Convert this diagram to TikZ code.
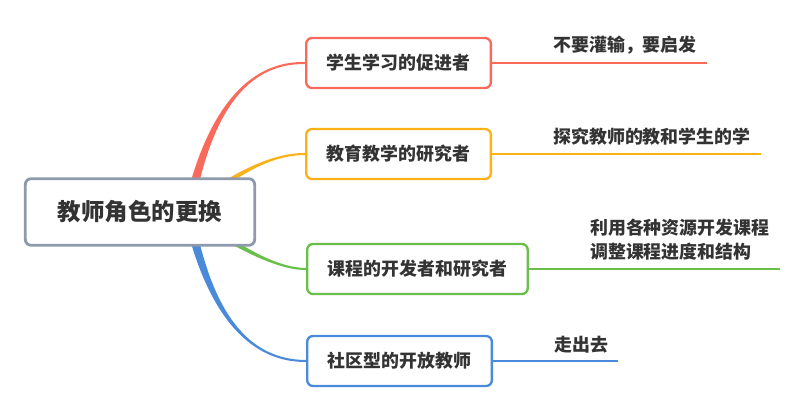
\documentclass[tikz,border=0pt]{standalone}
\usepackage{fontspec}
\setmainfont{Noto Sans CJK SC}
\usetikzlibrary{positioning,calc,backgrounds}

\definecolor{cRed}{HTML}{FA6A5A}
\definecolor{cOrange}{HTML}{FBB117}
\definecolor{cGreen}{HTML}{6ABF4B}
\definecolor{cBlue}{HTML}{4A8ADA}
\definecolor{cRoot}{HTML}{8E9AAB}
\definecolor{cText}{HTML}{333333}

\begin{document}
\begin{tikzpicture}[
  x=0.03cm, y=-0.03cm,
  rootbox/.style={draw=cRoot, line width=2.4pt, rounded corners=5pt, fill=white,
                  minimum height=2.0cm, inner xsep=0.98cm, text=cText,
                  font=\fontsize{20pt}{24pt}\selectfont\bfseries},
  topic/.style={draw=#1, line width=2pt, rounded corners=5pt, fill=white,
                minimum height=1.5cm, inner xsep=0.62cm, anchor=west, text=cText,
                font=\fontsize{15.3pt}{21.3pt}\selectfont\bfseries},
  leaf/.style={inner sep=0pt, anchor=south west, align=left, text=cText,
               font=\fontsize{15.3pt}{21.3pt}\selectfont\bfseries},
  leafline/.style={draw=#1, line width=2.1pt}
]
\useasboundingbox (0,0) rectangle (809,411);

% Root
\node[rootbox] (root) at (140,212) {教师角色的更换};
\coordinate (o) at ($(root.center)+(48,0)$);

% Main topics
\node[topic=cRed]    (b1) at (305,63)  {学生学习的促进者};
\node[topic=cOrange] (b2) at (305,154) {教育教学的研究者};
\node[topic=cGreen]  (b3) at (306,269) {课程的开发者和研究者};
\node[topic=cBlue]   (b4) at (306,361) {社区型的开放教师};

% Leaves
\node[leaf] (l1) at ($(b1.east)+(61,-8)$) {不要灌输，要启发};
\node[leaf] (l2) at ($(b2.east)+(61,-8)$) {探究教师的教和学生的学};
\node[leaf] (l3) at ($(b3.east)+(61,-8)$) {利用各种资源开发课程\\调整课程进度和结构};
\node[leaf] (l4) at ($(b4.east)+(61,-8)$) {走出去};

\foreach \b/\l/\col in {b1/l1/cRed, b2/l2/cOrange, b3/l3/cGreen, b4/l4/cBlue} {
  \coordinate (\l e) at ($(\l.east |- \b.east)+(10,0)$);
  \draw[leafline=\col] (\b.east) -- (\l e);
}

% Tapered branches behind the boxes
\begin{scope}[on background layer]
  \fill[white] (0,0) rectangle (809,411);
  \foreach \b/\col/\ca/\cb/\s/\w in {b1/cRed/{208,112}/{247,62}/-1/5,
                                     b2/cOrange/{233,173}/{272,154}/-1/7,
                                     b3/cGreen/{239,250}/{279,269}/1/7,
                                     b4/cBlue/{208,311}/{247,361}/1/5} {
    \fill[\col] ($(o)+(-\w,0)$) .. controls ($(\ca)+(-0.6*\w,0)$) and ($(\cb)+(0,1.3*\s)$) .. ($(\b.west)+(0,\s)$)
      -- ($(\b.west)+(0,-\s)$) .. controls ($(\cb)+(0,-1.3*\s)$) and ($(\ca)+(0.6*\w,0)$) .. ($(o)+(\w,0)$) -- cycle;
  }
\end{scope}

\end{tikzpicture}
\end{document}
